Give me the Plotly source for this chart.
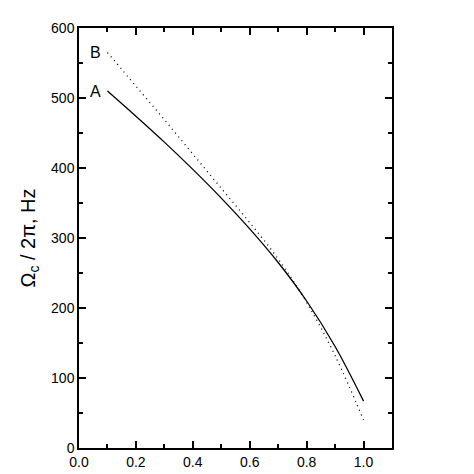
import plotly.graph_objects as go

x = [0.1, 0.2, 0.3, 0.4, 0.5, 0.6, 0.7, 0.8, 0.9, 1.0]
curve_a = [510, 474, 437, 398, 357, 313, 265, 210, 145, 67]
curve_b = [565, 517, 469, 420, 371, 322, 270, 208, 132, 40]

fig = go.Figure()
fig.add_trace(go.Scatter(x=x, y=curve_a, mode="lines", line=dict(color="black", width=1.3, shape="spline")))
fig.add_trace(go.Scatter(x=x, y=curve_b, mode="lines", line=dict(color="black", width=1.3, dash="1px,4px", shape="spline")))
fig.add_annotation(x=x[0], y=curve_a[0], text="A", showarrow=False, xanchor="right", xshift=-4, font=dict(size=16, color="black"))
fig.add_annotation(x=x[0], y=curve_b[0], text="B", showarrow=False, xanchor="right", xshift=-4, font=dict(size=16, color="black"))

ax = dict(showline=True, linecolor="black", linewidth=1.5, mirror="ticks", ticks="inside",
          ticklen=7, tickwidth=1.5, tickcolor="black", showgrid=False, zeroline=False)
fig.update_xaxes(range=[0, 1.1], dtick=0.2, tickformat=".1f",
                 minor=dict(dtick=0.1, ticks="inside", ticklen=4, tickcolor="black", tickwidth=1.5), **ax)
fig.update_yaxes(range=[0, 600], dtick=100,
                 minor=dict(dtick=50, ticks="inside", ticklen=4, tickcolor="black", tickwidth=1.5),
                 title=dict(text="Ω<sub>c</sub> / 2π, Hz", font=dict(size=20, color="black"), standoff=10), **ax)
fig.update_layout(width=474, height=474, showlegend=False, plot_bgcolor="white", paper_bgcolor="white",
                  font=dict(family="Liberation Sans, Arial", size=14, color="black"),
                  margin=dict(l=71, r=90, t=12, b=18))
fig.write_html("out.html")
